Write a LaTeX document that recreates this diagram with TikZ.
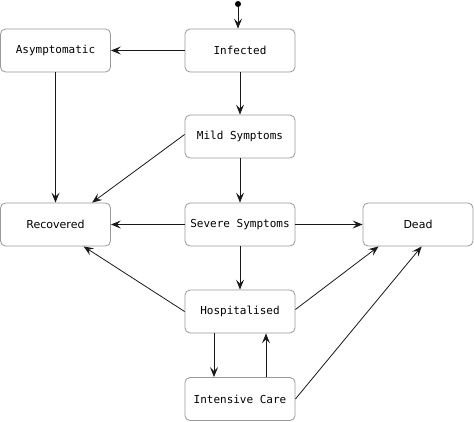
\documentclass[tikz,border=0pt]{standalone}
\usepackage{fontspec}
\setmonofont{DejaVu Sans Mono}
\newfontfamily\propfont{DejaVu Sans}
\usetikzlibrary{arrows.meta,calc}
\begin{document}
\begin{tikzpicture}[x=1pt,y=-1pt,
  state/.style={draw=black!40, line width=0.8pt, rounded corners=5pt, fill=white,
    minimum width=110pt, minimum height=43pt, inner sep=0pt,
    font=\ttfamily\fontsize{11}{13}\selectfont, text=black},
  propstate/.style={state, font=\propfont\fontsize{11}{13}\selectfont},
  conn/.style={draw=black!90, line width=0.8pt, -{Stealth[length=10pt,width=8pt,inset=4pt]}}]
\useasboundingbox (0,0) rectangle (474,421);
\node[state] (inf) at (240,50.5) {Infected};
\node[state] (asy) at (55.5,50.5) {Asymptomatic};
\node[state] (mild) at (240,136.5) {Mild Symptoms};
\node[propstate] (rec) at (55.5,224.5) {Recovered};
\node[state] (sev) at (240,224.5) {Severe Symptoms};
\node[propstate] (dead) at (418,224.5) {Dead};
\node[state] (hosp) at (240,311.5) {Hospitalised};
\node[state] (icu) at (240,399) {Intensive Care};
\node[circle, fill=black, inner sep=0pt, minimum size=6pt] (start) at (238,4) {};
\draw[conn] (start) -- ([xshift=-2pt]inf.north);
\draw[conn] (inf) -- (asy);
\draw[conn] (inf) -- (mild);
\draw[conn] (asy) -- (rec);
\draw[conn] ([yshift=2pt]mild.west) -- ([xshift=92pt]rec.north west);
\draw[conn] (mild) -- (sev);
\draw[conn] (sev) -- (rec);
\draw[conn] (sev) -- (dead);
\draw[conn] (sev) -- (hosp);
\draw[conn] (hosp.west) -- ([xshift=83.5pt]rec.south west);
\draw[conn] ([yshift=2pt]hosp.east) -- ([xshift=16pt]dead.south west);
\draw[conn] ([xshift=-26pt]hosp.south) -- ([xshift=-26pt]icu.north);
\draw[conn] ([xshift=26pt]icu.north) -- ([xshift=26pt]hosp.south);
\draw[conn] (icu.east) -- ([xshift=59pt]dead.south west);
\end{tikzpicture}
\end{document}
